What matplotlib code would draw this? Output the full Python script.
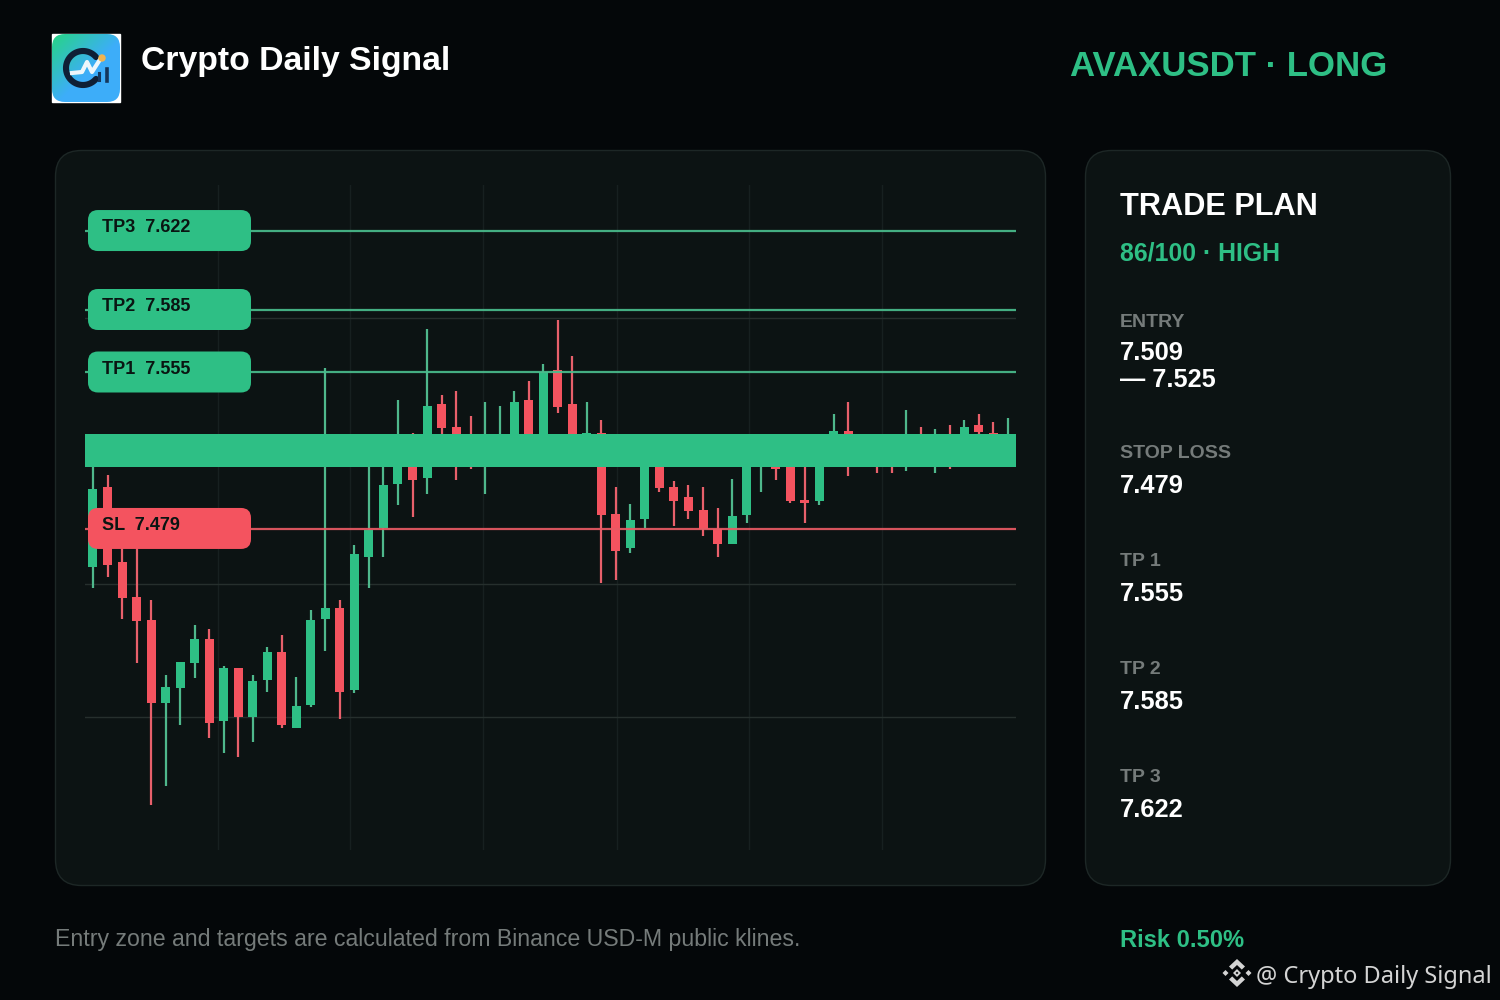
import matplotlib

matplotlib.use("Agg")

import matplotlib.pyplot as plt
import numpy as np
from matplotlib.patches import FancyBboxPatch, Polygon, Circle

BG = "#040709"
PANEL = "#0c1313"
BORDER = "#1d2726"
GREEN = "#2ebf85"
RED = "#f4535f"
WICK_GREEN = "#4fb88c"
WICK_RED = "#e8606b"
LINE_GREEN = "#4abc8c"
LINE_RED = "#e85a64"
GRID_H = "#262f2d"
GRID_V = "#172020"
MUTED = "#757b7a"

# candle prices, one entry per kline (open, high, low, close)
opens = [
    7.4608, 7.4992, 7.4632, 7.4464, 7.4353, 7.3955, 7.4027, 7.4147, 7.4262, 7.3868,
    7.4123, 7.3888, 7.4065, 7.4200, 7.3835, 7.3945, 7.4358, 7.4411, 7.4017, 7.4656,
    7.4795, 7.5006, 7.5217, 7.5035, 7.5390, 7.5280, 7.5217, 7.5145, 7.5145, 7.5193,
    7.5409, 7.5193, 7.5553, 7.5390, 7.5193, 7.5251, 7.4862, 7.4699, 7.4838, 7.5145,
    7.4992, 7.4944, 7.4881, 7.4790, 7.4718, 7.4857, 7.5145, 7.5097, 7.5097, 7.4929,
    7.4924, 7.5193, 7.5260, 7.5145, 7.5169, 7.5169, 7.5169, 7.5193, 7.5169, 7.5193,
    7.5193, 7.5289, 7.5251, 7.5169,
]
highs = [
    7.5121, 7.5049, 7.4785, 7.4785, 7.4449, 7.4089, 7.4152, 7.4329, 7.4310, 7.4132,
    7.4123, 7.4089, 7.4224, 7.4281, 7.4080, 7.4401, 7.5563, 7.4449, 7.4713, 7.5121,
    7.5121, 7.5409, 7.5251, 7.5750, 7.5433, 7.5452, 7.5332, 7.5400, 7.5380, 7.5452,
    7.5500, 7.5582, 7.5793, 7.5620, 7.5400, 7.5313, 7.4992, 7.4910, 7.5193, 7.5169,
    7.5020, 7.5001, 7.4992, 7.4891, 7.5030, 7.5193, 7.5193, 7.5121, 7.5121, 7.5145,
    7.5193, 7.5342, 7.5400, 7.5193, 7.5193, 7.5193, 7.5361, 7.5280, 7.5270, 7.5289,
    7.5313, 7.5342, 7.5304, 7.5323,
]
lows = [
    7.4507, 7.4560, 7.4358, 7.4147, 7.3465, 7.3556, 7.3849, 7.4075, 7.3787, 7.3715,
    7.3696, 7.3768, 7.4008, 7.3835, 7.3835, 7.3936, 7.4204, 7.3878, 7.4003, 7.4507,
    7.4656, 7.4905, 7.4848, 7.4958, 7.5246, 7.5025, 7.5078, 7.4958, 7.5121, 7.5169,
    7.5145, 7.5169, 7.5347, 7.5169, 7.5169, 7.4531, 7.4545, 7.4675, 7.4795, 7.4968,
    7.4804, 7.4838, 7.4756, 7.4656, 7.4718, 7.4819, 7.4968, 7.5025, 7.4915, 7.4819,
    7.4905, 7.5169, 7.5044, 7.5121, 7.5059, 7.5059, 7.5068, 7.5145, 7.5059, 7.5078,
    7.5169, 7.5217, 7.5193, 7.5145,
]
closes = [
    7.4982, 7.4617, 7.4459, 7.4348, 7.3955, 7.4032, 7.4152, 7.4262, 7.3859, 7.4123,
    7.3888, 7.4060, 7.4200, 7.3849, 7.3940, 7.4353, 7.4411, 7.4008, 7.4670, 7.4785,
    7.5001, 7.5193, 7.5025, 7.5380, 7.5275, 7.5193, 7.5169, 7.5217, 7.5193, 7.5400,
    7.5169, 7.5544, 7.5376, 7.5193, 7.5251, 7.4857, 7.4684, 7.4833, 7.5169, 7.4987,
    7.4924, 7.4876, 7.4790, 7.4718, 7.4852, 7.5169, 7.5169, 7.5078, 7.4924, 7.4915,
    7.5169, 7.5260, 7.5217, 7.5169, 7.5145, 7.5145, 7.5193, 7.5169, 7.5193, 7.5169,
    7.5280, 7.5256, 7.5217, 7.5193,
]

# level prices as drawn, the plotted klines carry more decimals than the labels
entry_low = 7.5086
entry_high = 7.5244
stop_loss = 7.479
targets = [7.622, 7.5841, 7.5541]
target_names = ["TP3", "TP2", "TP1"]
target_labels = ["7.622", "7.585", "7.555"]

grid_prices = [7.3888, 7.4526, 7.5164, 7.5803]
grid_slots = [8.6, 17.7, 26.85, 36.05, 45.2, 54.35]

plan_labels = ["STOP LOSS", "TP 1", "TP 2", "TP 3"]
plan_values = ["7.479", "7.555", "7.585", "7.622"]

PRICE_TOP = 7.6441
PRICE_BOTTOM = 7.3249


def px_font(size):
    return size * 0.72


def price_to_px(price):
    return 185 + (PRICE_TOP - price) / (PRICE_TOP - PRICE_BOTTOM) * 665


def rounded(ax, x0, y0, x1, y1, radius, **kwargs):
    patch = FancyBboxPatch(
        (x0 + radius, y0 + radius),
        x1 - x0 - 2 * radius,
        y1 - y0 - 2 * radius,
        boxstyle=f"round,pad={radius},rounding_size={radius}",
        **kwargs,
    )
    ax.add_patch(patch)
    return patch


def put_text(ax, x, y, text, size, color, weight="bold", **kwargs):
    # matplotlib centres on the full box, nudge down to sit like the reference
    ax.text(x, y + size * 0.09, text, fontsize=px_font(size), color=color, fontweight=weight,
            va="center", ha="left", **kwargs)


def draw_logo(page):
    page.add_patch(plt.Rectangle((52, 34), 68, 68, color="#ffffff", zorder=1))
    xs, ys = np.meshgrid(np.linspace(0, 1, 68), np.linspace(0, 1, 68))
    mix = np.clip(1.0 * xs + 1.0 * ys - 0.1, 0, 1)[..., None]
    image = (1 - mix) * np.array([0.16, 0.82, 0.56]) + mix * np.array([0.24, 0.68, 0.98])
    shown = page.imshow(image, extent=(52, 120, 102, 34), aspect="auto", zorder=2)
    clip = rounded(page, 52, 34, 120, 102, 13, facecolor="none", edgecolor="none", zorder=2)
    shown.set_clip_path(clip)

    theta = np.radians(np.arange(40, 325, 5))
    page.plot(83 + 17 * np.cos(theta), 68 - 17 * np.sin(theta), color="#0f1f35", lw=4.4,
              solid_capstyle="round", zorder=3)
    page.plot([72, 82, 87, 92, 101], [73, 72, 62, 72, 58], color="#eef7fb", lw=3,
              solid_joinstyle="round", zorder=4)
    page.add_patch(Circle((102, 58), 3, color="#f3b44f", zorder=5))
    page.plot([106.5, 106.5], [69, 81], color="#14365c", lw=2.6, zorder=4)
    page.plot([99, 99], [73, 80], color="#14365c", lw=2.2, zorder=4)


def draw_watermark(page):
    cx, cy = 1237, 973
    color = "#d4d4d4"
    chevron = np.array([(0, -14), (8, -6.5), (4.8, -3.4), (0, -8), (-4.8, -3.4), (-8, -6.5)])
    page.add_patch(Polygon(chevron + (cx, cy), color=color, lw=0, zorder=3))
    page.add_patch(Polygon(chevron * (1, -1) + (cx, cy), color=color, lw=0, zorder=3))
    side = np.array([(-3, 0), (0, -3), (3, 0), (0, 3)])
    page.add_patch(Polygon(side + (cx - 11.5, cy), color=color, lw=0, zorder=3))
    page.add_patch(Polygon(side + (cx + 11.5, cy), color=color, lw=0, zorder=3))
    page.add_patch(Polygon(side * 0.9 + (cx, cy), fill=False, edgecolor=color, lw=1.3, zorder=3))
    page.text(1256, 977, "@ Crypto Daily Signal", fontsize=px_font(23.6), color=color,
              family="Noto Sans", va="center", ha="left")


def draw_page(page):
    page.set_xlim(0, 1500)
    page.set_ylim(1000, 0)
    page.set_axis_off()

    draw_logo(page)
    page.set_xlim(0, 1500)
    page.set_ylim(1000, 0)

    put_text(page, 141, 58, "Crypto Daily Signal", 33.8, "#ffffff")
    put_text(page, 1070, 63, "AVAXUSDT \u00b7 LONG", 34.8, GREEN)

    rounded(page, 55.5, 150.5, 1045.5, 885.5, 26, facecolor=PANEL, edgecolor=BORDER, lw=1)
    rounded(page, 1085.5, 150.5, 1450.5, 885.5, 26, facecolor=PANEL, edgecolor=BORDER, lw=1)

    put_text(page, 1120, 204, "TRADE PLAN", 30.8, "#ffffff")
    put_text(page, 1120, 251, "86/100 \u00b7 HIGH", 24.9, GREEN)

    put_text(page, 1120, 321, "ENTRY", 19.5, MUTED)
    put_text(page, 1120, 351, "7.509", 25.5, "#ffffff")
    put_text(page, 1120, 378, "\u2014 7.525", 25.2, "#ffffff")

    for i, (label, value) in enumerate(zip(plan_labels, plan_values)):
        put_text(page, 1120, 452 + 108 * i, label, 19.5, MUTED)
        put_text(page, 1120, 484 + 108 * i, value, 25.5, "#ffffff")

    put_text(page, 55, 937.5, "Entry zone and targets are calculated from Binance USD-M public klines.",
             23.15, MUTED, weight="normal")
    put_text(page, 1120, 938.5, "Risk 0.50%", 23.7, GREEN)

    draw_watermark(page)


def draw_candles(ax):
    slots = np.arange(len(opens))
    o, h, l, c = map(np.array, (opens, highs, lows, closes))
    rising = c >= o

    ax.vlines(slots, l, h, colors=np.where(rising, WICK_GREEN, WICK_RED), lw=1.6, zorder=2)
    ax.bar(slots, np.abs(c - o), bottom=np.minimum(o, c), width=0.62,
           color=np.where(rising, GREEN, RED), zorder=3)


def draw_level(ax, page, price, name, text, color, line_color):
    ax.axhline(price, color=line_color, lw=1.6, alpha=0.92, zorder=5)
    mid = price_to_px(price) - 0.5
    rounded(ax, 88, mid - 20.5, 251, mid + 20.5, 10, facecolor=color, edgecolor="none",
            transform=page.transData, zorder=6, clip_on=False)
    ax.text(102, mid - 3, f"{name}  {text}", transform=page.transData, fontsize=px_font(18),
            fontweight="bold", color="#0a1512", va="center", ha="left", zorder=7)


def main():
    plt.rcParams["font.family"] = ["Liberation Sans", "DejaVu Sans"]

    fig = plt.figure(figsize=(15, 10), dpi=100, facecolor=BG)
    page = fig.add_axes([0, 0, 1, 1], zorder=0)
    draw_page(page)

    ax = fig.add_axes([85 / 1500, 150 / 1000, 931 / 1500, 665 / 1000], zorder=1)
    ax.patch.set_alpha(0)
    ax.set_xlim(-0.55, 63.55)
    ax.set_ylim(PRICE_BOTTOM, PRICE_TOP)
    ax.set_xticks(grid_slots)
    ax.set_yticks(grid_prices)
    ax.tick_params(length=0, labelbottom=False, labelleft=False)
    ax.grid(axis="x", color=GRID_V, lw=1, zorder=0)
    ax.grid(axis="y", color=GRID_H, lw=1, zorder=0)
    ax.set_axisbelow(True)
    for spine in ax.spines.values():
        spine.set_visible(False)

    draw_candles(ax)
    ax.axhspan(entry_low, entry_high, color=GREEN, lw=0, zorder=4)

    for price, name, text in zip(targets, target_names, target_labels):
        draw_level(ax, page, price, name, text, GREEN, LINE_GREEN)
    draw_level(ax, page, stop_loss, "SL", "7.479", RED, LINE_RED)

    fig.savefig("out.png", dpi=100, facecolor=BG)
    plt.close(fig)


if __name__ == "__main__":
    main()
